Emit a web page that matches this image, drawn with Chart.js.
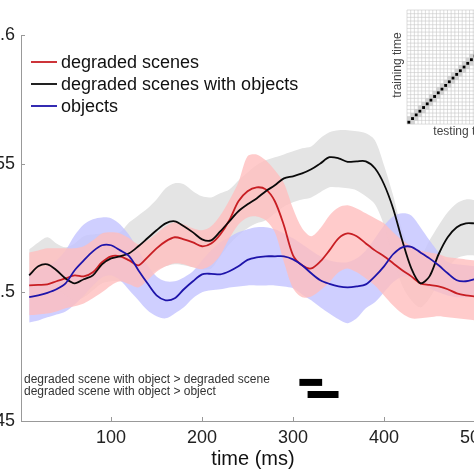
<!DOCTYPE html>
<html>
<head>
<meta charset="utf-8">
<script src="https://cdn.jsdelivr.net/npm/chart.js@4.4.1/dist/chart.umd.min.js"></script>
<style>
  html, body { margin: 0; padding: 0; background: #fff; overflow: hidden; width: 474px; height: 474px; }
  #wrap { position: absolute; left: -20px; top: 0; width: 520px; height: 474px; }
</style>
</head>
<body>
<div id="wrap"><canvas id="c" width="520" height="474"></canvas></div>
<script>
// time axis (ms)
const time = [10,20,30,40,50,60,70,80,90,100, 110,120,130,140,150,160,170,180,190,200,
              210,220,230,240,250,260,270,280,290,300, 310,320,330,340,350,360,370,380,390,400,
              410,420,430,440,450,460,470,480,490,500]

// degraded scenes (red)
const redMean  = [.5027,.5029,.5031,.5043,.5054,.5066,.5062,.5078,.5117,.5140, .5140,.5124,.5105,.5136,.5171,.5198,.5214,.5206,.5194,.5179,
                  .5190,.5225,.5280,.5354,.5393,.5408,.5400,.5354,.5260,.5144, .5105,.5093,.5120,.5163,.5210,.5229,.5218,.5190,.5163,.5140,
                  .5113,.5086,.5062,.5035,.5029,.5023,.5012,.4996,.4988,.4984]
const redUpper = [.5155,.5163,.5171,.5171,.5171,.5171,.5179,.5202,.5229,.5233, .5229,.5210,.5187,.5202,.5229,.5257,.5272,.5264,.5249,.5241,
                  .5257,.5299,.5358,.5428,.5529,.5536,.5513,.5474,.5424,.5326, .5249,.5218,.5249,.5299,.5330,.5338,.5326,.5307,.5288,.5268,
                  .5233,.5202,.5179,.5163,.5155,.5148,.5136,.5132,.5128,.5124]
const redLower = [.4911,.4914,.4918,.4926,.4938,.4946,.4957,.4977,.5000,.5027, .5043,.5031,.5019,.5047,.5080,.5101,.5113,.5109,.5097,.5090,
                  .5105,.5144,.5210,.5264,.5291,.5295,.5280,.5233,.5117,.5016, .4981,.4984,.5008,.5039,.5078,.5093,.5078,.5054,.5027,.4988,
                  .4949,.4918,.4899,.4899,.4903,.4907,.4903,.4899,.4895,.4891]

// degraded scenes with objects (black)
const blackMean  = [.5066,.5101,.5109,.5086,.5054,.5035,.5051,.5066,.5109,.5132, .5140,.5152,.5179,.5210,.5241,.5268,.5276,.5257,.5233,.5206,
                    .5202,.5237,.5276,.5315,.5342,.5365,.5393,.5416,.5443,.5451, .5462,.5478,.5501,.5525,.5521,.5507,.5509,.5509,.5482,.5420,
                    .5326,.5202,.5093,.5035,.5062,.5148,.5214,.5253,.5268,.5268]
const blackUpper = [.5167,.5194,.5214,.5190,.5175,.5190,.5218,.5225,.5229,.5229, .5233,.5272,.5299,.5326,.5361,.5404,.5424,.5420,.5393,.5373,
                    .5369,.5385,.5400,.5435,.5466,.5494,.5513,.5525,.5536,.5548, .5560,.5567,.5599,.5622,.5630,.5630,.5626,.5618,.5591,.5494,
                    .5377,.5241,.5163,.5140,.5202,.5260,.5311,.5346,.5361,.5358]
const blackLower = [.5000,.5027,.5035,.5016,.4988,.4969,.4981,.5008,.5035,.5043, .5043,.5039,.5047,.5066,.5086,.5101,.5109,.5105,.5097,.5090,
                    .5093,.5140,.5187,.5222,.5249,.5268,.5280,.5307,.5334,.5350, .5361,.5369,.5389,.5408,.5408,.5404,.5396,.5373,.5342,.5260,
                    .5132,.5027,.4969,.4942,.4977,.5039,.5093,.5132,.5143,.5143]

// objects (blue)
const blueMean  = [.4981,.4988,.4998,.5012,.5035,.5086,.5124,.5159,.5183,.5183, .5163,.5140,.5086,.5035,.4988,.4969,.4977,.5012,.5043,.5070,
                   .5072,.5070,.5082,.5101,.5126,.5136,.5140,.5140,.5140,.5128, .5105,.5074,.5047,.5033,.5023,.5019,.5023,.5031,.5062,.5101,
                   .5148,.5175,.5177,.5155,.5132,.5105,.5074,.5047,.5043,.5051]
const blueUpper = [.5078,.5086,.5101,.5124,.5163,.5222,.5264,.5284,.5291,.5288, .5264,.5222,.5163,.5105,.5062,.5043,.5043,.5058,.5082,.5124,
                   .5163,.5194,.5214,.5233,.5245,.5253,.5253,.5245,.5229,.5210, .5187,.5163,.5140,.5124,.5117,.5117,.5132,.5163,.5210,.5260,
                   .5295,.5307,.5299,.5253,.5202,.5155,.5117,.5109,.5105,.5101]
const blueLower = [.4883,.4891,.4903,.4914,.4926,.4953,.4988,.5027,.5058,.5066, .5047,.5008,.4969,.4930,.4907,.4899,.4918,.4942,.4977,.5000,
                   .5008,.5012,.5019,.5023,.5027,.5027,.5027,.5027,.5023,.5016, .4992,.4969,.4942,.4918,.4895,.4880,.4899,.4938,.4961,.5000,
                   .5039,.5062,.5058,.5039,.5016,.5000,.4988,.4981,.4981,.4984]

const seriesNames = ["degraded scenes", "degraded scenes with objects", "objects"]

// significant time windows
const sigLabels = ["degraded scene with object > degraded scene", "degraded scene with object > object"]
const sigStart = [307, 316]
const sigEnd = [332, 350]
const sigLevel = [0.465, 0.4603]

const xTicks = [100, 200, 300, 400, 500]
const yTicks = [0.45, 0.5, 0.55, 0.6]

const axisColor = "#999999"
const font = "'Liberation Sans', Arial, sans-serif"

function pts(arr) {
    return time.map(function(t, i) { return {x: t, y: arr[i]} })
}

function band(upper, lower, color, order) {
    return [
        { data: pts(upper), fill: "+1", backgroundColor: color, borderWidth: 0, pointRadius: 0, tension: 0.3, order: order },
        { data: pts(lower), fill: false, borderWidth: 0, pointRadius: 0, tension: 0.3, order: order }
    ]
}

function line(arr, color, label, order) {
    return { label: label, data: pts(arr), borderColor: color, borderWidth: 1.8, pointRadius: 0, fill: false, tension: 0.3, order: order }
}

let datasets = []
datasets = datasets.concat(band(blackUpper, blackLower, "rgb(228,228,228)", 6))
datasets = datasets.concat(band(blueUpper, blueLower, "rgba(195,195,255,0.8)", 5))
datasets = datasets.concat(band(redUpper, redLower, "rgba(255,190,190,0.8)", 4))
datasets.push(line(redMean, "rgb(200,30,35)", seriesNames[0], 3))
datasets.push(line(blackMean, "rgb(10,10,10)", seriesNames[1], 2))
datasets.push(line(blueMean, "rgb(30,20,170)", seriesNames[2], 1))
for (let i = 0; i < sigLabels.length; i++) {
    datasets.push({
        data: [{x: sigStart[i], y: sigLevel[i]}, {x: sigEnd[i], y: sigLevel[i]}],
        borderColor: "#000", borderWidth: 7, borderCapStyle: "butt", pointRadius: 0, fill: false, order: 0
    })
}

const legendColors = ["rgb(200,30,35)", "rgb(10,10,10)", "rgb(30,20,170)"]

// inward ticks, legend, significance labels and the small inset
const extras = {
    id: "extras",
    afterDatasetsDraw(chart) {
        const ctx = chart.ctx
        const a = chart.chartArea
        const xs = chart.scales.x
        const ys = chart.scales.y
        ctx.save()

        ctx.strokeStyle = axisColor
        ctx.lineWidth = 1
        ctx.beginPath()
        xTicks.forEach(function(v) {
            let px = Math.round(xs.getPixelForValue(v)) + 0.5
            ctx.moveTo(px, a.bottom); ctx.lineTo(px, a.bottom - 4)
        })
        yTicks.forEach(function(v) {
            let py = Math.round(ys.getPixelForValue(v)) + 0.5
            ctx.moveTo(a.left, py); ctx.lineTo(a.left + 4, py)
        })
        ctx.stroke()

        // legend
        ctx.font = "18px " + font
        ctx.textBaseline = "middle"
        ctx.textAlign = "left"
        for (let i = 0; i < seriesNames.length; i++) {
            let yy = a.top + 27 + i * 22
            ctx.strokeStyle = legendColors[i]
            ctx.lineWidth = 1.8
            ctx.beginPath()
            ctx.moveTo(a.left + 10, yy); ctx.lineTo(a.left + 36, yy)
            ctx.stroke()
            ctx.fillStyle = "#111"
            ctx.fillText(seriesNames[i], a.left + 40, yy + 1)
        }

        // significance labels
        ctx.font = "12px " + font
        ctx.fillStyle = "#333"
        for (let i = 0; i < sigLabels.length; i++) {
            ctx.fillText(sigLabels[i], a.left + 3, ys.getPixelForValue(sigLevel[i]) - 2.5)
        }

        // inset: train/test time matrix
        const ix = 427, iy = 10, n = 31, cs = 3.68
        ctx.fillStyle = "#fff"
        ctx.fillRect(ix, iy, n * cs, n * cs)
        ctx.fillStyle = "#d4d4d4"
        for (let k = 0; k < n; k++) {
            let r = n - 1 - k
            if (k > 0) ctx.fillRect(ix + (k - 1) * cs, iy + r * cs, cs, cs)
            if (k < n - 1) ctx.fillRect(ix + (k + 1) * cs, iy + r * cs, cs, cs)
            if (r > 0) ctx.fillRect(ix + k * cs, iy + (r - 1) * cs, cs, cs)
            if (r < n - 1) ctx.fillRect(ix + k * cs, iy + (r + 1) * cs, cs, cs)
        }
        ctx.strokeStyle = "#c8c8c8"
        ctx.lineWidth = 0.6
        ctx.beginPath()
        for (let k = 0; k <= n; k++) {
            ctx.moveTo(ix + k * cs, iy); ctx.lineTo(ix + k * cs, iy + n * cs)
            ctx.moveTo(ix, iy + k * cs); ctx.lineTo(ix + n * cs, iy + k * cs)
        }
        ctx.stroke()
        ctx.fillStyle = "#000"
        for (let k = 0; k < n; k++) {
            ctx.fillRect(ix + k * cs + 0.4, iy + (n - 1 - k) * cs + 0.4, cs - 0.8, cs - 0.8)
        }
        ctx.fillStyle = "#444"
        ctx.font = "12px " + font
        ctx.textAlign = "center"
        ctx.fillText("testing time", ix + n * cs / 2, iy + n * cs + 8)
        ctx.translate(ix - 9, iy + 55)
        ctx.rotate(-Math.PI / 2)
        ctx.fillText("training time", 0, 0)
        ctx.restore()
    }
}

new Chart(document.getElementById("c"), {
    type: "line",
    data: { datasets: datasets },
    options: {
        responsive: false,
        animation: false,
        layout: { padding: { top: 35, right: 15, left: 0, bottom: 0 } },
        plugins: { legend: { display: false }, tooltip: { enabled: false } },
        scales: {
            x: {
                type: "linear",
                min: 1,
                max: 511,
                afterBuildTicks: function(s) { s.ticks = xTicks.map(function(v) { return {value: v} }) },
                afterFit: function(s) { s.height = 53 },
                grid: { display: false, drawTicks: false },
                border: { display: true, color: axisColor, width: 1 },
                ticks: { color: "#222", font: { size: 18, family: font }, padding: 6, maxRotation: 0 },
                title: { display: true, text: "time (ms)", color: "#111", font: { size: 20, family: font }, padding: { top: 0, bottom: 3 } }
            },
            y: {
                min: 0.45,
                max: 0.6,
                afterBuildTicks: function(s) { s.ticks = yTicks.map(function(v) { return {value: v} }) },
                afterFit: function(s) { s.width = 41 },
                grid: { display: false, drawTicks: false },
                border: { display: true, color: axisColor, width: 1 },
                ticks: { color: "#222", font: { size: 18, family: font }, padding: 6,
                         callback: function(v) { return String(Math.round(v * 100) / 100) } }
            }
        }
    },
    plugins: [extras]
})
</script>
</body>
</html>
